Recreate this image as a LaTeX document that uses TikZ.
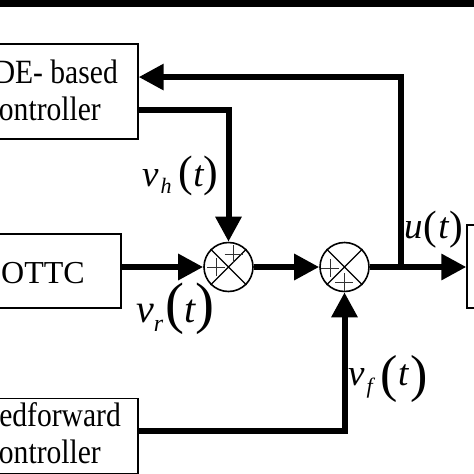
\documentclass[tikz,border=0pt]{standalone}
\usepackage{fontspec}
\usepackage{graphicx}
\setmainfont{Liberation Serif}
\usetikzlibrary{arrows.meta,calc}
\newcommand\pp[3]{\raisebox{#2}{\fontsize{#1}{#1}\selectfont\upshape #3}}
\newcommand\subl[3]{\raisebox{#2}{\fontsize{#1}{#1}\selectfont\itshape #3}}
\newcommand\narrow[1]{\scalebox{0.87}[1]{#1}}
\begin{document}
\begin{tikzpicture}[x=1pt,y=-1pt,
  wire/.style={line width=6pt},
  sig/.style={wire,-{Triangle[length=25pt,width=25pt]}},
  blk/.style={draw,line width=1.3pt,inner sep=0pt},
  txt/.style={inner sep=0pt,font=\fontsize{34}{37}\selectfont},
  sum/.style={circle,draw,line width=1.6pt,minimum size=49pt,inner sep=0pt},
  xline/.style={line width=1.3pt},
  lab/.style={inner sep=0pt,anchor=base west,font=\fontsize{37}{37}\selectfont\itshape},
  pls/.pic={\draw[line width=1pt,black!80] (-9,0) -- (9,0) (0,-9) -- (0,9);}
]
\useasboundingbox (0,0) rectangle (474,474);
\fill (0,0) rectangle (474,7);

% blocks
\node[blk,minimum width=200pt,minimum height=95pt] (pde) at (38,91.5) {};
\node[blk,minimum width=200pt,minimum height=74pt] (ottc) at (21,271) {};
\node[blk,minimum width=200pt,minimum height=75pt] (ff) at (38,436) {};
\node[blk,minimum width=100pt,minimum height=83pt] (plant) at (517,266.5) {};

% block texts
\node[txt,anchor=base east] (pdeA) at (118,83) {\narrow{PDE- based}};
\node[txt,anchor=base east] (pdeB) at (101,120) {\narrow{controller}};
\node[txt,anchor=base west,font=\fontsize{32}{37}\selectfont] (ottcT) at (1,283) {OTTC};
\node[txt,anchor=base east] (ffA) at (121,426) {\narrow{Feedforward}};
\node[txt,anchor=base east] (ffB) at (101,463) {\narrow{controller}};

% summing junctions
\node[sum] (s1) at (228.5,267) {};
\node[sum] (s2) at (344.5,267) {};
\draw[xline] (s1.north west) -- (s1.south east) (s1.north east) -- (s1.south west);
\draw[xline] (s2.north west) -- (s2.south east) (s2.north east) -- (s2.south west);
\path (216,267) pic {pls} (233.5,254) pic {pls};
\path (330,268) pic {pls} (344,282) pic {pls};

% connectors
\coordinate (j) at (401,267);
\coordinate (pdein) at ($(pde.north east)!0.35!(pde.south east)$);
\coordinate (pdeout) at ($(pde.north east)!0.69!(pde.south east)$);
\coordinate (ffout) at ($(ff.north east)!0.43!(ff.south east)$);
\draw[sig] (s2.east) -- (plant.west |- s2);
\draw[sig] (j) |- (pdein);
\draw[sig] (pdeout) -| (s1.north);
\draw[sig] (ottc.east |- s1) -- (s1.west);
\draw[sig] (s1.east) -- (s2.west);
\draw[sig] (ffout) -| (s2.south);

% signal labels
\node[lab] (uL) at (404,238) {u\kern1pt\pp{41}{-1pt}{(}\kern1pt t\kern1pt\pp{41}{-1pt}{)}};
\node[lab] (vhL) at (142,186) {v\kern2pt\subl{22}{-7pt}{h}\kern7pt\pp{44}{0pt}{(}t\pp{44}{0pt}{)}};
\node[lab] (vfL) at (348,385) {v\kern2pt\subl{22}{-8pt}{f}\kern8pt\pp{52}{-6pt}{(}t\kern2pt\pp{52}{-6pt}{)}};
\node[lab,font=\fontsize{40}{40}\selectfont\itshape] (vrL) at (136,322) {v\subl{24}{-9pt}{r}\kern2pt\pp{57}{0pt}{(}t\pp{57}{0pt}{)}};
\end{tikzpicture}
\end{document}
